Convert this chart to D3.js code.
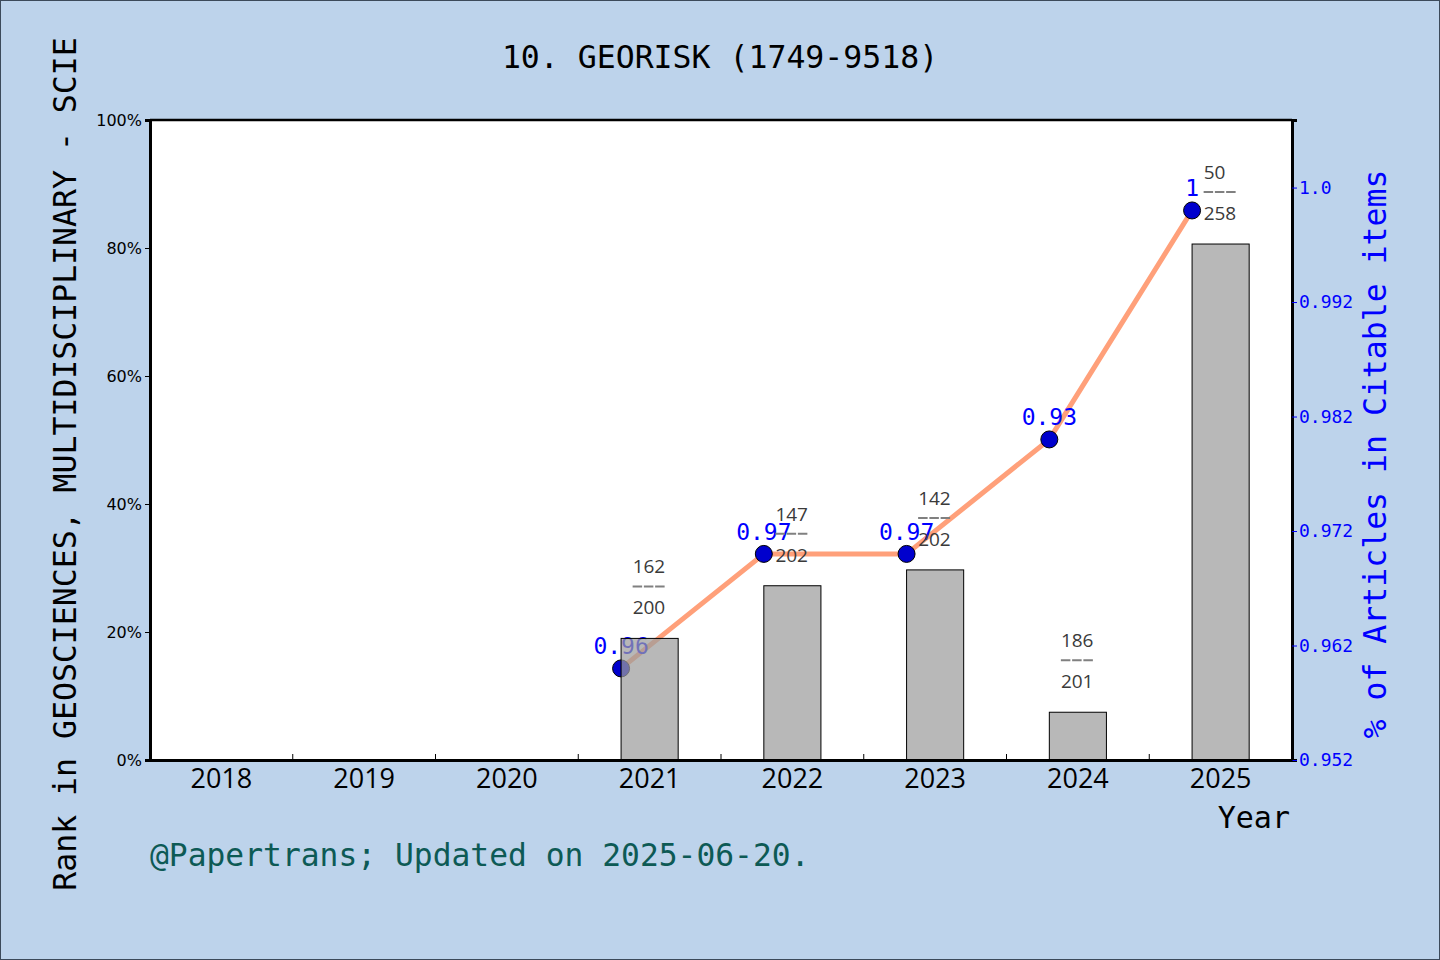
<!DOCTYPE html>
<html>
<head>
<meta charset="utf-8">
<script src="https://cdn.jsdelivr.net/npm/d3@7"></script>
<style>
  body { margin: 0; background: #bdd3eb; }
  svg { display: block; }
</style>
</head>
<body>
<div id="chart"></div>
<script>
const years = ["2018", "2019", "2020", "2021", "2022", "2023", "2024", "2025"];
// rank / total per year (null = no data)
const ranks = [null, null, null, 162, 147, 142, 186, 50];
const totals = [null, null, null, 200, 202, 202, 201, 258];
// % of articles in citable items
const citable = [null, null, null, 0.96, 0.97, 0.97, 0.98, 1.0];
const citableLabels = [null, null, null, "0.96", "0.97", "0.97", "0.93", "1"];
const leftTicks = [0, 0.2, 0.4, 0.6, 0.8, 1.0];
const rightTicks = [0.952, 0.962, 0.972, 0.982, 0.992, 1.002];
const rightTickLabels = ["0.952", "0.962", "0.972", "0.982", "0.992", "1.0"];

let width = 1440, height = 960;
let margin = { left: 150, right: 148, top: 120, bottom: 200 };
let mono = "'DejaVu Sans Mono', monospace";

let svg = d3.select("#chart").append("svg")
    .attr("width", width)
    .attr("height", height);

svg.append("rect")
    .attr("x", 0.5).attr("y", 0.5)
    .attr("width", width - 1).attr("height", height - 1)
    .attr("fill", "#bdd3eb")
    .attr("stroke", "#3c4a5a");

let x = d3.scaleBand().domain(years).range([margin.left, width - margin.right]).padding(0);
let yL = d3.scaleLinear().domain([0, 1]).range([height - margin.bottom, margin.top]);
let yR = d3.scaleLinear().domain([0.952, 1.0079]).range([height - margin.bottom, margin.top]);
let barW = x.bandwidth() * 0.4;

// plot area
svg.append("rect")
    .attr("x", margin.left).attr("y", margin.top)
    .attr("width", width - margin.left - margin.right)
    .attr("height", height - margin.top - margin.bottom)
    .attr("fill", "white");

let rows = years.map((y, i) => ({ year: y, rank: ranks[i], total: totals[i], c: citable[i], label: citableLabels[i] }))
    .filter(d => d.rank !== null);

// line + points (bars are drawn over them, semi-transparent)
let px = d => x(d.year) + x.bandwidth() / 2 - barW / 2;

svg.append("path")
    .datum(rows)
    .attr("fill", "none")
    .attr("stroke", "#ffa07a")
    .attr("stroke-width", 5)
    .attr("stroke-linejoin", "round")
    .attr("d", d3.line().x(px).y(d => yR(d.c)));

svg.selectAll(".pt")
    .data(rows)
    .enter()
    .append("circle")
    .attr("cx", px)
    .attr("cy", d => yR(d.c))
    .attr("r", 8.5)
    .attr("fill", "#0000cd")
    .attr("stroke", "black")
    .attr("stroke-width", 1);

svg.selectAll(".ptlabel")
    .data(rows)
    .enter()
    .append("text")
    .attr("x", px)
    .attr("y", d => yR(d.c) - 14)
    .attr("text-anchor", "middle")
    .attr("font-family", mono)
    .attr("font-size", 23)
    .attr("fill", "#0000ff")
    .text(d => d.label);

// bars: share of journals ranked below
svg.selectAll(".bar")
    .data(rows)
    .enter()
    .append("rect")
    .attr("x", d => x(d.year) + x.bandwidth() / 2 - barW / 2)
    .attr("y", d => yL(1 - d.rank / d.total))
    .attr("width", barW)
    .attr("height", d => yL(0) - yL(1 - d.rank / d.total))
    .attr("fill", "#9c9c9c")
    .attr("fill-opacity", 0.72)
    .attr("stroke", "black")
    .attr("stroke-width", 1);

// rank fraction labels
let frac = svg.selectAll(".frac")
    .data(rows)
    .enter()
    .append("g")
    .attr("transform", d => `translate(${x(d.year) + x.bandwidth() / 2 - 17},${yL(1 - d.rank / d.total)})`);

frac.append("text")
    .attr("y", -65)
    .attr("font-family", "'Open Sans', sans-serif")
    .attr("font-size", 19)
    .attr("fill", "#3a3a3a")
    .text(d => d.rank);

frac.append("line")
    .attr("x1", 0).attr("x2", 32)
    .attr("y1", -52).attr("y2", -52)
    .attr("stroke", "#808080")
    .attr("stroke-width", 2)
    .attr("stroke-dasharray", "9.5,1.75");

frac.append("text")
    .attr("y", -24)
    .attr("font-family", "'Open Sans', sans-serif")
    .attr("font-size", 19)
    .attr("fill", "#3a3a3a")
    .text(d => d.total);

// frame top
svg.append("line")
    .attr("x1", margin.left).attr("x2", width - margin.right)
    .attr("y1", margin.top).attr("y2", margin.top)
    .attr("stroke", "black").attr("stroke-width", 2.5);

// left axis
let gL = svg.append("g")
    .attr("transform", `translate(${margin.left},0)`)
    .call(d3.axisLeft(yL).tickValues(leftTicks).tickFormat(d3.format(".0%")).tickSize(5).tickPadding(3));
gL.select(".domain").attr("stroke-width", 3);
gL.selectAll("text").attr("font-family", "'DejaVu Sans', sans-serif").attr("font-size", 16).attr("fill", "black");

// right axis
let gR = svg.append("g")
    .attr("transform", `translate(${width - margin.right},0)`)
    .call(d3.axisRight(yR).tickValues(rightTicks).tickFormat((d, i) => rightTickLabels[i]).tickSize(5).tickPadding(2));
gR.select(".domain").attr("stroke", "black").attr("stroke-width", 3);
gR.selectAll(".tick line").attr("stroke", "#0000ff");
gR.selectAll("text").attr("font-family", mono).attr("font-size", 18).attr("fill", "#0000ff");

// bottom axis: labels at band centres, inner ticks at band edges
let gB = svg.append("g")
    .attr("transform", `translate(0,${height - margin.bottom})`)
    .call(d3.axisBottom(x).tickSize(0).tickPadding(6));
gB.select(".domain").attr("stroke-width", 3);
gB.selectAll("text").attr("font-family", "'Open Sans', sans-serif").attr("font-size", 27).attr("fill", "black").attr("dy", "0.8em");

svg.append("g")
    .selectAll("line")
    .data(years.slice(1))
    .enter()
    .append("line")
    .attr("x1", d => x(d)).attr("x2", d => x(d))
    .attr("y1", height - margin.bottom).attr("y2", height - margin.bottom - 6)
    .attr("stroke", "black").attr("stroke-width", 1);

// titles
svg.append("text")
    .attr("x", 720).attr("y", 68)
    .attr("text-anchor", "middle")
    .attr("font-family", mono).attr("font-size", 31.5)
    .attr("fill", "black")
    .text("10. GEORISK (1749-9518)");

svg.append("text")
    .attr("transform", "translate(76,464) rotate(-90)")
    .attr("text-anchor", "middle")
    .attr("font-family", mono).attr("font-size", 31.5)
    .attr("fill", "black")
    .text("Rank in GEOSCIENCES, MULTIDISCIPLINARY - SCIE");

svg.append("text")
    .attr("transform", "translate(1386,454) rotate(-90)")
    .attr("text-anchor", "middle")
    .attr("font-family", mono).attr("font-size", 31.5)
    .attr("fill", "#0000ff")
    .text("% of Articles in Citable items");

svg.append("text")
    .attr("x", 1290).attr("y", 828)
    .attr("text-anchor", "end")
    .attr("font-family", mono).attr("font-size", 30)
    .attr("fill", "black")
    .text("Year");

svg.append("text")
    .attr("x", 150).attr("y", 866)
    .attr("font-family", mono).attr("font-size", 31.3)
    .attr("fill", "#0d5a55")
    .text("@Papertrans; Updated on 2025-06-20.");
</script>
</body>
</html>
